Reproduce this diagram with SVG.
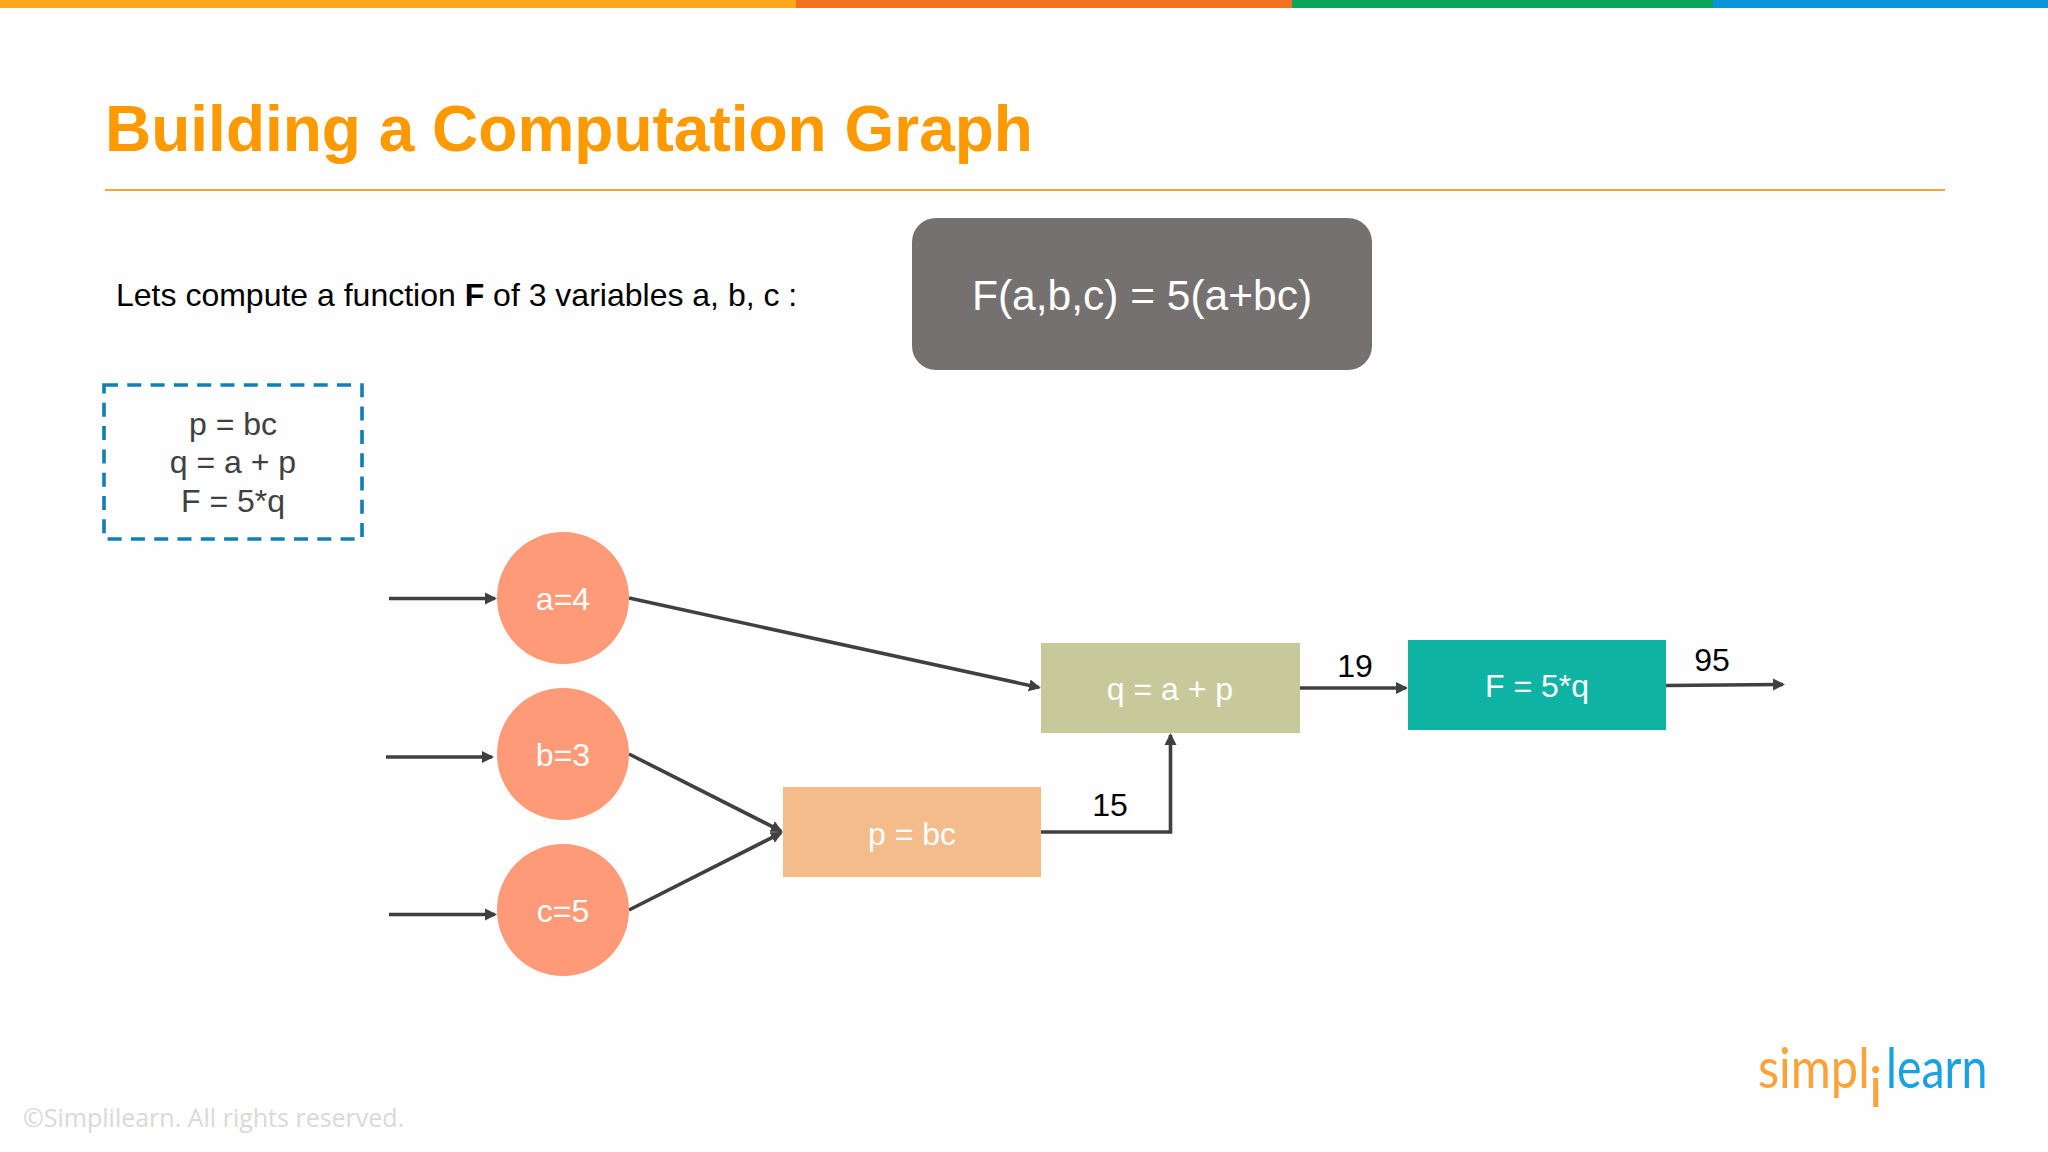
<svg xmlns="http://www.w3.org/2000/svg" width="2048" height="1152" viewBox="0 0 2048 1152">
<style>
text{font-family:"Liberation Sans",Arial,sans-serif}
.c{text-anchor:middle}
.n{font-size:32px;fill:#fff;text-anchor:middle}
.m{font-size:32px;fill:#404040;text-anchor:middle}
.e{font-size:32px;fill:#000;text-anchor:middle}
.o{fill:#FF9A78}
.l{fill:none;stroke:#404040;stroke-width:3.6;marker-end:url(#a)}
#logo text{font-family:Lato,sans-serif;font-size:56px}
</style>
<defs><marker id="a" markerUnits="userSpaceOnUse" markerWidth="14" markerHeight="14" refX="10" refY="6.5" orient="auto" viewBox="0 0 14 14"><path d="M0 0.5L12 6.5L0 12.5Z" fill="#404040"/></marker></defs>
<rect width="2048" height="1152" fill="#FEFEFE"/>
<g id="top-bar"><rect width="796" height="8" fill="#FDA81C"/><rect x="796" width="496" height="8" fill="#F37021"/><rect x="1292" width="421" height="8" fill="#0AA558"/><rect x="1713" width="335" height="8" fill="#0A95D8"/></g>
<text id="title" x="105" y="151" font-size="64" font-weight="700" fill="#FF9900">Building a Computation Graph</text>
<rect x="105" y="189" width="1840" height="2" fill="#F3A73B"/>
<text id="intro" x="116" y="306" font-size="32" fill="#000">Lets compute a function <tspan font-weight="700">F</tspan> of 3 variables a, b, c :</text>
<g id="formula"><rect x="912" y="218" width="460" height="152" rx="24" fill="#767171"/><text class="c" x="1142" y="310" font-size="42.500" fill="#fff">F(a,b,c) = 5(a+bc)</text></g>
<g id="steps"><rect x="104" y="385" width="258" height="154" fill="none" stroke="#0F7FB5" stroke-width="3.6" stroke-dasharray="14 9.3"/><text class="m" x="233" y="435">p = bc</text><text class="m" x="233" y="473">q = a + p</text><text class="m" x="233" y="512">F = 5*q</text></g>
<g id="connectors">
<path class="l" d="M389 598.5H495"/>
<path class="l" d="M386 757H492"/>
<path class="l" d="M389 914.500H495"/>
<path class="l" d="M629 598L1039 687.500"/>
<path class="l" d="M629 754L781 831"/>
<path class="l" d="M629 910L781 833"/>
<path class="l" d="M1041 832H1170.500V735"/>
<path class="l" d="M1300 688H1406"/>
<path class="l" d="M1666 685.500L1783 684.500"/>
</g>
<g id="node-a"><circle class="o" cx="563" cy="598" r="66"/><text class="n" x="563" y="610">a=4</text></g>
<g id="node-b"><circle class="o" cx="563" cy="754" r="66"/><text class="n" x="563" y="766">b=3</text></g>
<g id="node-c"><circle class="o" cx="563" cy="910" r="66"/><text class="n" x="563" y="922">c=5</text></g>
<g id="node-p"><rect x="783" y="787" width="258" height="90" fill="#F4BC8B"/><text class="n" x="912" y="845">p = bc</text></g>
<g id="node-q"><rect x="1041" y="643" width="259" height="90" fill="#C8C99A"/><text class="n" x="1170" y="700">q = a + p</text></g>
<g id="node-f"><rect x="1408" y="640" width="258" height="90" fill="#0FB3A3"/><text class="n" x="1537" y="697">F = 5*q</text></g>
<text class="e" x="1110" y="816">15</text>
<text class="e" x="1355" y="677">19</text>
<text class="e" x="1712" y="671">95</text>
<g id="logo"><text transform="translate(1758 1088) scale(.87 1)" fill="#FBA33B">simpl</text><text x="1869" y="1107" fill="#FBA33B">i</text><text transform="translate(1886 1088) scale(.83 1)" fill="#1BA1E2">learn</text></g>
<text id="copyright" x="23" y="1127" font-size="25" fill="#D9D9D9" style="font-family:'Open Sans',sans-serif">©Simplilearn. All rights reserved.</text>
</svg>
